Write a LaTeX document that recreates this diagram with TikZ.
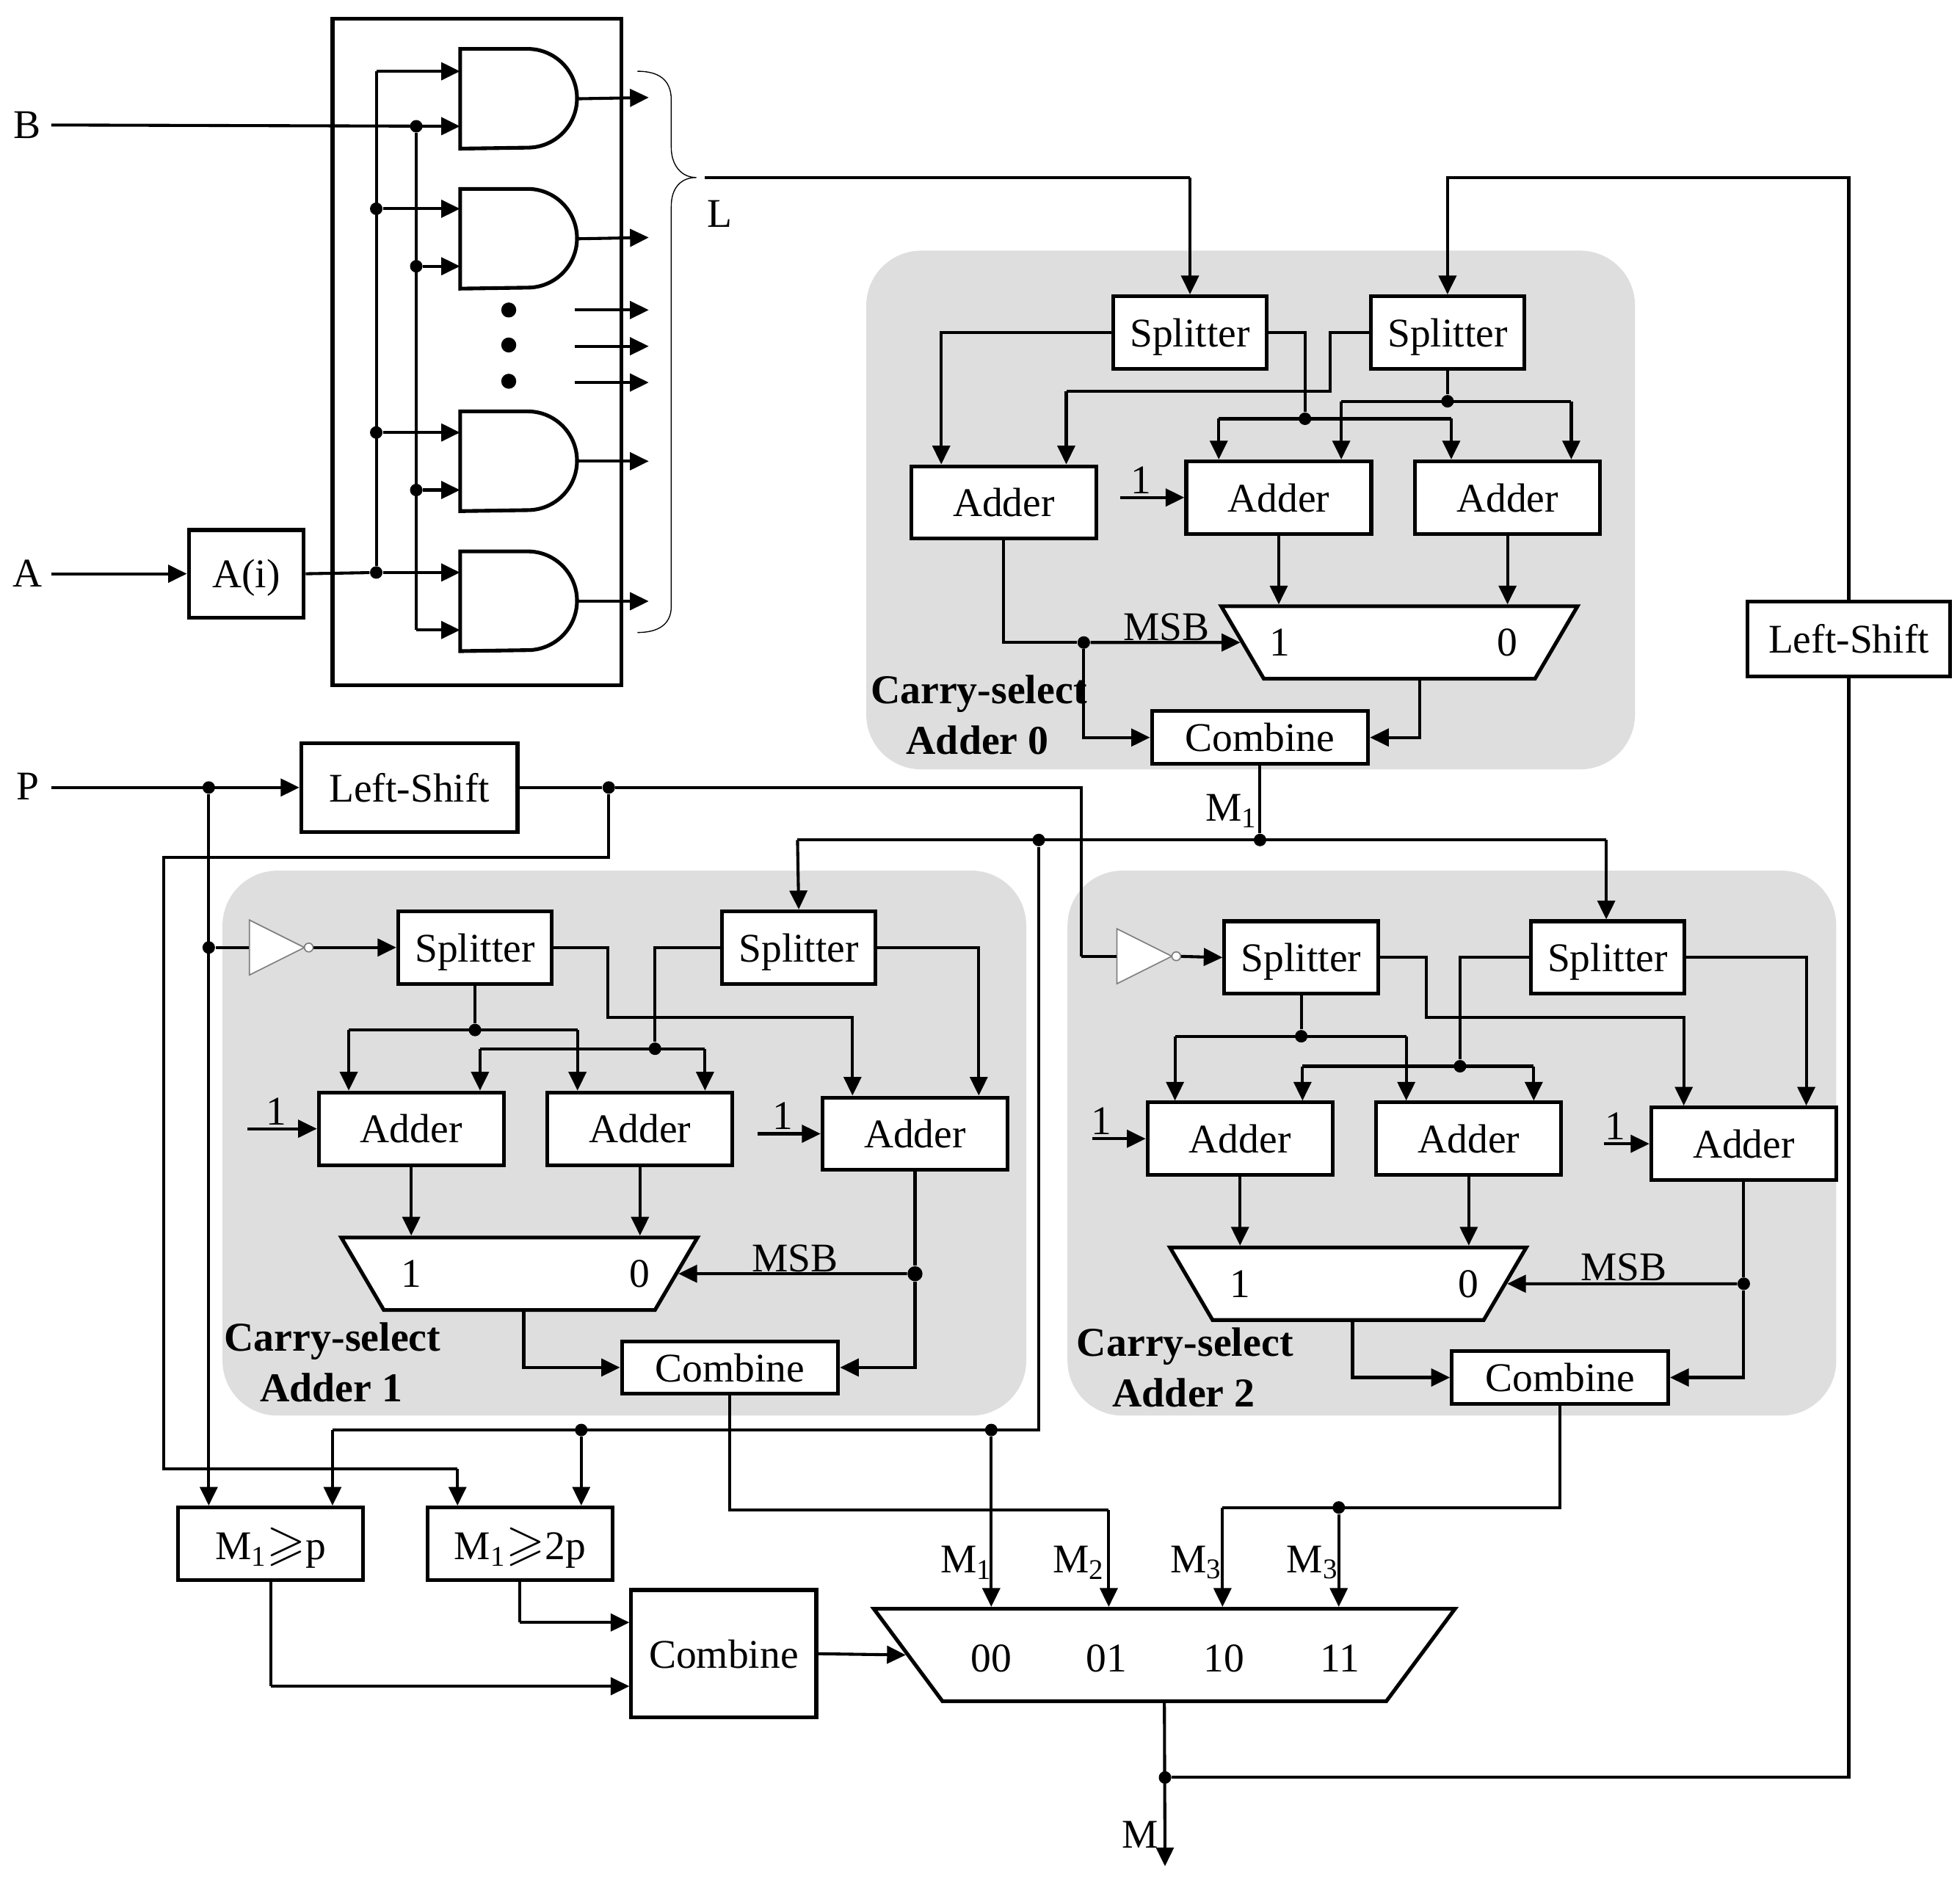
\documentclass[tikz,border=0pt]{standalone}
\usepackage{amssymb}
\usepackage{fontspec}
\setmainfont{Liberation Serif}
\usetikzlibrary{arrows.meta,shapes.geometric}
\definecolor{panelgray}{HTML}{DEDEDE}
\tikzset{
    every node/.style={font=\fontsize{16.3}{18}\selectfont},
    wire/.style={line width=1.2pt},
    arrow/.style={wire, -{Triangle[length=7.5pt,width=7pt]}},
    boxline/.style={line width=1.5pt},
    box/.style={draw, boxline, fill=white, inner sep=0pt, text depth=0pt},
    splitterbox/.style={box, minimum width=61.5pt, minimum height=29pt},
    adderbox/.style={box, minimum width=74pt, minimum height=29pt},
    combinebox/.style={box, minimum width=86.5pt, minimum height=21pt},
    cmpbox/.style={box, minimum width=74pt, minimum height=29pt},
    muxbox/.style={box, trapezium, trapezium stretches body=true, shape border rotate=180,
        trapezium angle=59.6, minimum width=142.5pt, minimum height=29pt},
    gatebody/.style={inner sep=0pt, minimum width=47pt, minimum height=39.5pt},
    panel/.style={fill=panelgray, rounded corners=22pt, inner sep=0pt, minimum width=307.5pt},
    invgate/.style={draw=gray, line width=0.5pt, fill=white, isosceles triangle, isosceles triangle stretches=true,
        inner sep=0pt, anchor=lower side, minimum width=22pt, minimum height=22pt},
    bubble/.style={circle, draw=gray, line width=0.5pt, fill=white, inner sep=0pt, minimum size=3.5pt},
    dot/.style={circle, fill=black, inner sep=0pt, minimum size=5pt},
    bigdot/.style={dot, minimum size=6pt},
    capt/.style={font=\fontsize{16.4}{18}\selectfont\bfseries, inner sep=0pt},
    lbl/.style={inner sep=0pt},
}
\newcommand{\andgate}[3]{
    \node[gatebody] (#1) at (#2, #3) {};
    \draw[boxline, fill=white] (#1.north west) -- ++(54, 0) arc[start angle=90, end angle=-90, radius=19.75pt]
        -- (#1.south west) -- cycle;
}
\newcommand{\bigge}{{\fontsize{20}{20}\selectfont$\geqslant$}}

\begin{document}
\begin{tikzpicture}[x=0.5pt, y=-0.5pt]
    \useasboundingbox (0, 0) rectangle (1568, 1501.6);

    % gray panels
    \node[panel, minimum height=207.5pt] (panel0) at (1000.5, 408) {};
    \node[panel, minimum width=321.5pt, minimum height=218pt] (panel1) at (499.5, 914.5) {};
    \node[panel, minimum height=218pt] (panel2) at (1161.5, 914.5) {};
    \node[capt] (capt0a) at (783, 555) {Carry-select};
    \node[capt] (capt0b) at (782, 592) {Adder 0};
    \node[capt] (capt1a) at (266, 1073) {Carry-select};
    \node[capt] (capt1b) at (265, 1110) {Adder 1};
    \node[capt] (capt2a) at (948, 1077) {Carry-select};
    \node[capt] (capt2b) at (947, 1114) {Adder 2};

    % input labels
    \node[lbl] (labB) at (22, 100) {B};
    \node[lbl] (labA) at (22, 459) {A};
    \node[lbl] (labP) at (22, 629) {P};
    \node[lbl] (labL) at (576, 171) {L};

    % A(i) and the AND gates
    \draw[boxline] (266, 15) rectangle (497, 548);
    \node[box, minimum width=46pt, minimum height=35pt] (ai) at (197, 459) {A(i)};
    \andgate{and1}{415.5}{79}
    \andgate{and2}{415.5}{191}
    \andgate{and3}{415.5}{369}
    \andgate{and4}{415.5}{481}
    \node[dot, minimum size=6pt] (ell1) at (407, 248) {};
    \node[dot, minimum size=6pt] (ell2) at (407, 276) {};
    \node[dot, minimum size=6pt] (ell3) at (407, 305) {};

    \coordinate (inB) at (41, 100);
    \coordinate (inA) at (41, 459);
    \coordinate (top1) at (301, 57);
    \coordinate (low4) at (333, 504);
    \node[dot] (da4) at (301, 458) {};
    \node[dot] (da3) at (301, 346) {};
    \node[dot] (da2) at (301, 167) {};
    \node[dot] (db1) at (333, 101) {};
    \node[dot] (db2) at (333, 213) {};
    \node[dot] (db3) at (333, 392) {};
    \coordinate (in1a) at (368, 57);
    \coordinate (in1b) at (368, 101);
    \coordinate (in2a) at (368, 167);
    \coordinate (in2b) at (368, 213);
    \coordinate (in3a) at (368, 346);
    \coordinate (in3b) at (368, 392);
    \coordinate (in4a) at (368, 458);
    \coordinate (in4b) at (368, 504);

    \draw[arrow] (inA) -- (ai.west);
    \draw[wire] (ai.east) -- (da4);
    \draw[arrow] (inB) -- (in1b);
    \draw[wire] (da4) -- (top1);
    \draw[wire] (db1) -- (low4);
    \draw[arrow] (top1) -- (in1a);
    \draw[arrow] (da2) -- (in2a);
    \draw[arrow] (da3) -- (in3a);
    \draw[arrow] (da4) -- (in4a);
    \draw[arrow] (db2) -- (in2b);
    \draw[arrow] (db3) -- (in3b);
    \draw[arrow] (low4) -- (in4b);

    % gate outputs and the brace
    \coordinate (out1) at (519, 78);
    \coordinate (out2) at (519, 190);
    \coordinate (out3) at (519, 369);
    \coordinate (out4) at (519, 481);
    \coordinate (mid1a) at (460, 248);
    \coordinate (mid1b) at (519, 248);
    \coordinate (mid2a) at (460, 277);
    \coordinate (mid2b) at (519, 277);
    \coordinate (mid3a) at (460, 306);
    \coordinate (mid3b) at (519, 306);
    \draw[arrow] (and1.east) -- (out1);
    \draw[arrow] (and2.east) -- (out2);
    \draw[arrow] (and3.east) -- (out3);
    \draw[arrow] (and4.east) -- (out4);
    \draw[arrow] (mid1a) -- (mid1b);
    \draw[arrow] (mid2a) -- (mid2b);
    \draw[arrow] (mid3a) -- (mid3b);
    \draw[line width=0.4pt] (510, 57) .. controls (526, 57) and (537, 63) .. (537, 80) -- (537, 118)
        .. controls (537, 132) and (545, 142) .. (557, 142) .. controls (545, 142) and (537, 150) .. (537, 165)
        -- (537, 485) .. controls (537, 500) and (526, 506) .. (510, 506);

    % carry-select adder 0
    \node[splitterbox] (s0a) at (952, 266) {Splitter};
    \node[splitterbox] (s0b) at (1158, 266) {Splitter};
    \node[adderbox] (a0a) at (803, 402) {Adder};
    \node[adderbox] (a0b) at (1023, 398) {Adder};
    \node[adderbox] (a0c) at (1206, 398) {Adder};
    \node[muxbox] (mux0) at (1119.5, 514) {\phantom{\rule{1pt}{29pt}}};
    \node[lbl] (mux0one) at (1024, 514) {1};
    \node[lbl] (mux0zero) at (1206, 514) {0};
    \node[combinebox] (cb0) at (1008, 590) {Combine};
    \node[lbl] (msb0) at (933, 502) {MSB};
    \node[lbl] (one0) at (913, 384) {1};
    \node[lbl] (m10) at (985, 649) {M\textsubscript{1}};

    \node[dot] (d0a) at (1044, 335) {};
    \node[dot] (d0b) at (1158, 321) {};
    \node[dot] (d0c) at (867, 514) {};
    \node[dot] (d0m) at (1008, 672) {};
    \coordinate (b0al) at (975, 335);
    \coordinate (b0ar) at (1161, 335);
    \coordinate (b0bl) at (1073, 321);
    \coordinate (b0br) at (1257, 321);
    \coordinate (c0a) at (753, 266);
    \coordinate (c0b) at (1064, 266);
    \coordinate (c0c) at (1064, 313);
    \coordinate (c0d) at (853, 313);
    \coordinate (c0e) at (1136, 590);
    \coordinate (one0in) at (896, 398);

    \draw[arrow] (s0a.west) -- (c0a) -- (c0a |- a0a.north);
    \draw[wire] (s0a.east) -| (d0a);
    \draw[wire] (s0b.west) -- (c0b) -- (c0c) -- (c0d);
    \draw[arrow] (c0d) -- (c0d |- a0a.north);
    \draw[wire] (s0b.south) -- (d0b);
    \draw[wire] (b0al) -- (b0ar);
    \draw[wire] (b0bl) -- (b0br);
    \draw[arrow] (b0al) -- (b0al |- a0b.north);
    \draw[arrow] (b0ar) -- (b0ar |- a0c.north);
    \draw[arrow] (b0bl) -- (b0bl |- a0b.north);
    \draw[arrow] (b0br) -- (b0br |- a0c.north);
    \draw[arrow] (one0in) -- (a0b.west);
    \draw[arrow] (a0b.south) -- (a0b.south |- mux0.north);
    \draw[arrow] (a0c.south) -- (a0c.south |- mux0.north);
    \draw[wire] (a0a.south) |- (d0c);
    \draw[arrow] (d0c) -- (mux0.west);
    \draw[arrow] (d0c) |- (cb0.west);
    \draw[arrow] (c0e |- mux0.south) -- (c0e) -- (cb0.east);
    \draw[wire] (cb0.south) -- (d0m);

    % carry-select adder 1
    \node[invgate] (inv1) at (199, 758) {};
    \node[bubble] (bub1) at (247, 758) {};
    \node[splitterbox] (s1a) at (380, 758) {Splitter};
    \node[splitterbox] (s1b) at (639, 758) {Splitter};
    \node[adderbox] (a1a) at (329, 903) {Adder};
    \node[adderbox] (a1b) at (512, 903) {Adder};
    \node[adderbox] (a1c) at (732, 907) {Adder};
    \node[muxbox] (mux1) at (415.5, 1019) {\phantom{\rule{1pt}{29pt}}};
    \node[lbl] (mux1one) at (329, 1019) {1};
    \node[lbl] (mux1zero) at (512, 1019) {0};
    \node[combinebox] (cb1) at (584, 1094) {Combine};
    \node[lbl] (msb1) at (636, 1007) {MSB};
    \node[lbl] (one1a) at (221, 889) {1};
    \node[lbl] (one1b) at (626, 893) {1};

    \node[dot] (d1a) at (380, 824) {};
    \node[dot] (d1b) at (524, 839) {};
    \node[bigdot] (d1c) at (732, 1019) {};
    \coordinate (b1al) at (279, 824);
    \coordinate (b1ar) at (462, 824);
    \coordinate (b1bl) at (384, 839);
    \coordinate (b1br) at (564, 839);
    \coordinate (c1a) at (486, 758);
    \coordinate (c1b) at (486, 814);
    \coordinate (c1c) at (682, 814);
    \coordinate (c1d) at (783, 758);
    \coordinate (c1e) at (419, 1094);
    \coordinate (one1ain) at (198, 903);
    \coordinate (one1bin) at (606, 907);

    \draw[arrow] (bub1) -- (s1a.west);
    \draw[wire] (s1a.south) -- (d1a);
    \draw[wire] (b1al) -- (b1ar);
    \draw[wire] (b1bl) -- (b1br);
    \draw[arrow] (b1al) -- (b1al |- a1a.north);
    \draw[arrow] (b1ar) -- (b1ar |- a1b.north);
    \draw[arrow] (b1bl) -- (b1bl |- a1a.north);
    \draw[arrow] (b1br) -- (b1br |- a1b.north);
    \draw[arrow] (s1a.east) -- (c1a) -- (c1b) -- (c1c) -- (c1c |- a1c.north);
    \draw[wire] (s1b.west) -| (d1b);
    \draw[arrow] (s1b.east) -- (c1d) -- (c1d |- a1c.north);
    \draw[arrow] (one1ain) -- (a1a.west);
    \draw[arrow] (one1bin) -- (a1c.west);
    \draw[arrow] (a1a.south) -- (a1a.south |- mux1.north);
    \draw[arrow] (a1b.south) -- (a1b.south |- mux1.north);
    \draw[wire] (a1c.south) -- (d1c);
    \draw[arrow] (d1c) -- (mux1.east);
    \draw[arrow] (d1c) |- (cb1.east);
    \draw[arrow] (c1e |- mux1.south) -- (c1e) -- (cb1.west);

    % carry-select adder 2
    \node[invgate] (inv2) at (893, 765) {};
    \node[bubble] (bub2) at (941, 765) {};
    \node[splitterbox] (s2a) at (1041, 766) {Splitter};
    \node[splitterbox] (s2b) at (1286, 766) {Splitter};
    \node[adderbox] (a2a) at (992, 911) {Adder};
    \node[adderbox] (a2b) at (1175, 911) {Adder};
    \node[adderbox] (a2c) at (1395, 915) {Adder};
    \node[muxbox] (mux2) at (1078.5, 1027) {\phantom{\rule{1pt}{29pt}}};
    \node[lbl] (mux2one) at (992, 1027) {1};
    \node[lbl] (mux2zero) at (1175, 1027) {0};
    \node[combinebox] (cb2) at (1248, 1102) {Combine};
    \node[lbl] (msb2) at (1299, 1014) {MSB};
    \node[lbl] (one2a) at (881, 897) {1};
    \node[lbl] (one2b) at (1292, 901) {1};

    \node[dot] (d2a) at (1041, 829) {};
    \node[dot] (d2b) at (1168, 853) {};
    \node[dot] (d2c) at (1395, 1027) {};
    \coordinate (b2al) at (940, 829);
    \coordinate (b2ar) at (1125, 829);
    \coordinate (b2bl) at (1042, 853);
    \coordinate (b2br) at (1227, 853);
    \coordinate (c2a) at (1141, 766);
    \coordinate (c2b) at (1141, 814);
    \coordinate (c2c) at (1347, 814);
    \coordinate (c2d) at (1445, 766);
    \coordinate (c2e) at (1082, 1102);
    \coordinate (one2ain) at (874, 911);
    \coordinate (one2bin) at (1283, 915);

    \draw[arrow] (bub2) -- (s2a.west);
    \draw[wire] (s2a.south) -- (d2a);
    \draw[wire] (b2al) -- (b2ar);
    \draw[wire] (b2bl) -- (b2br);
    \draw[arrow] (b2al) -- (b2al |- a2a.north);
    \draw[arrow] (b2ar) -- (b2ar |- a2b.north);
    \draw[arrow] (b2bl) -- (b2bl |- a2a.north);
    \draw[arrow] (b2br) -- (b2br |- a2b.north);
    \draw[arrow] (s2a.east) -- (c2a) -- (c2b) -- (c2c) -- (c2c |- a2c.north);
    \draw[wire] (s2b.west) -| (d2b);
    \draw[arrow] (s2b.east) -- (c2d) -- (c2d |- a2c.north);
    \draw[arrow] (one2ain) -- (a2a.west);
    \draw[arrow] (one2bin) -- (a2c.west);
    \draw[arrow] (a2a.south) -- (a2a.south |- mux2.north);
    \draw[arrow] (a2b.south) -- (a2b.south |- mux2.north);
    \draw[wire] (a2c.south) -- (d2c);
    \draw[arrow] (d2c) -- (mux2.east);
    \draw[arrow] (d2c) |- (cb2.east);
    \draw[arrow] (c2e |- mux2.south) -- (c2e) -- (cb2.west);

    % P, left-shift and the M1 bus
    \coordinate (inP) at (41, 630);
    \node[box, minimum width=86.5pt, minimum height=35.5pt] (ls1) at (327.5, 630) {Left-Shift};
    \node[box, minimum width=81pt, minimum height=30pt] (ls2) at (1479, 511) {Left-Shift};
    \node[dot] (dp1) at (167, 630) {};
    \node[dot] (dp2) at (487, 630) {};
    \node[dot] (dp3) at (167, 758) {};
    \node[dot] (dm1) at (831, 672) {};
    \node[dot] (dm2) at (793, 1144) {};
    \node[dot] (dm3) at (465, 1144) {};
    \node[dot] (dout) at (932, 1422) {};
    \coordinate (c3a) at (865, 630);
    \coordinate (c3b) at (865, 765);
    \coordinate (c3c) at (487, 686);
    \coordinate (c3d) at (131, 686);
    \coordinate (c3e) at (131, 1175);
    \coordinate (c3f) at (366, 1175);
    \coordinate (c3g) at (831, 1144);
    \coordinate (c3h) at (266, 1144);
    \coordinate (c3i) at (638, 672);
    \coordinate (c3j) at (1285, 672);
    \coordinate (c3k) at (584, 1208);
    \coordinate (c3l) at (887, 1208);
    \coordinate (c3m) at (1248, 1206);
    \coordinate (c3n) at (978, 1206);
    \coordinate (c3p) at (564, 142);
    \coordinate (c3q) at (952, 142);
    \coordinate (c3r) at (1158, 142);
    \coordinate (c3s) at (1479, 142);
    \coordinate (c3t) at (1479, 1422);
    \coordinate (outM) at (932, 1493);

    % comparators and the last mux
    \node[cmpbox] (cmp1) at (216.5, 1235) {M\textsubscript{1}\bigge{}p};
    \node[cmpbox] (cmp2) at (416, 1235) {M\textsubscript{1}\bigge{}2p};
    \node[box, minimum width=74pt, minimum height=51pt] (cb3) at (579, 1323) {Combine};
    \node[muxbox, trapezium angle=53.4, minimum width=232.5pt, minimum height=37pt] (mux3) at (931.5, 1324) {\phantom{\rule{1pt}{37pt}}};
    \node[lbl] (sel00) at (793, 1327) {00};
    \node[lbl] (sel01) at (885, 1327) {01};
    \node[lbl] (sel10) at (979, 1327) {10};
    \node[lbl] (sel11) at (1072, 1327) {11};
    \node[lbl] (m1) at (773, 1250) {M\textsubscript{1}};
    \node[lbl] (m2) at (863, 1250) {M\textsubscript{2}};
    \node[lbl] (m3a) at (957, 1250) {M\textsubscript{3}};
    \node[lbl] (m3b) at (1050, 1250) {M\textsubscript{3}};
    \node[lbl] (labM) at (912, 1468) {M};
    \node[dot] (dm4) at (1071, 1206) {};
    \coordinate (c4a) at (416, 1298);
    \coordinate (c4b) at (216.5, 1349);

    \draw[wire] (c3p) -- (c3q);
    \draw[arrow] (c3q) -- (s0a.north);
    \draw[arrow] (ls2.north) -- (c3s) -- (c3r) -- (s0b.north);
    \draw[wire] (ls2.south) -- (c3t) -- (dout);
    \draw[arrow] (inP) -- (ls1.west);
    \draw[wire] (ls1.east) -- (dp2);
    \draw[wire] (dp2) -- (c3a) -- (c3b);
    \draw[wire] (c3b) -- (inv2.lower side);
    \draw[wire] (dp2) -- (c3c) -- (c3d) -- (c3e) -- (c3f);
    \draw[arrow] (c3f) -- (c3f |- cmp2.north);
    \draw[arrow] (dp1) -- (dp1 |- cmp1.north);
    \draw[wire] (dp3) -- (inv1.lower side);
    \draw[wire] (c3i) -- (c3j);
    \draw[arrow] (c3i) -- (s1b.north);
    \draw[arrow] (c3j) -- (c3j |- s2b.north);
    \draw[wire] (dm1) -- (c3g) -- (c3h);
    \draw[arrow] (c3h) -- (c3h |- cmp1.north);
    \draw[arrow] (dm3) -- (dm3 |- cmp2.north);
    \draw[arrow] (dm2) -- (dm2 |- mux3.north);
    \draw[wire] (cb1.south) -- (c3k) -- (c3l);
    \draw[arrow] (c3l) -- (c3l |- mux3.north);
    \draw[wire] (cb2.south) -- (c3m) -- (c3n);
    \draw[arrow] (c3n) -- (c3n |- mux3.north);
    \draw[arrow] (dm4) -- (dm4 |- mux3.north);
    \draw[wire] (cmp2.south) -- (c4a);
    \draw[arrow] (c4a) -- (c4a -| cb3.west);
    \draw[wire] (cmp1.south) -- (c4b);
    \draw[arrow] (c4b) -- (c4b -| cb3.west);
    \draw[arrow] (cb3.east) -- (mux3.west);
    \draw[arrow] (mux3.south) -- (outM);
\end{tikzpicture}
\end{document}
